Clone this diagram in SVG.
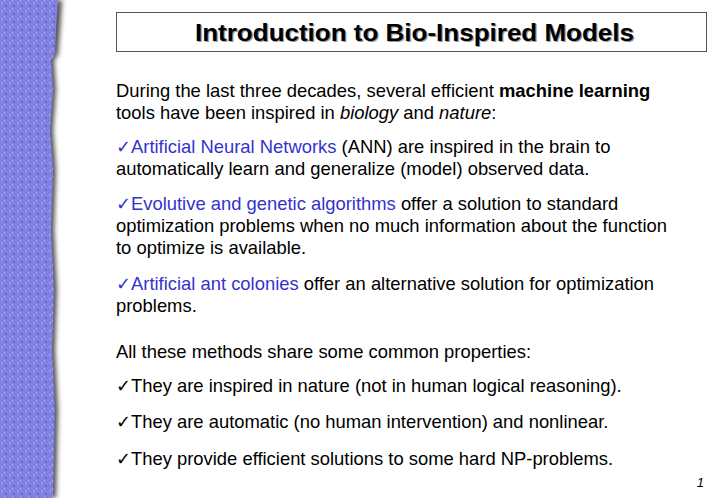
<svg xmlns="http://www.w3.org/2000/svg" width="720" height="498" viewBox="0 0 720 498">
<defs>
<pattern id="tex" width="8" height="8" patternUnits="userSpaceOnUse">
<rect width="8" height="8" fill="#8080e0"/>
<rect x="1" y="2" width="2" height="2" fill="#9a9af0"/>
<rect x="5" y="5" width="2" height="2" fill="#6a6acc"/>
<rect x="4" y="0" width="1" height="2" fill="#a8a8f4"/>
</pattern>
<filter id="sh" x="-20%" y="-5%" width="160%" height="110%"><feGaussianBlur stdDeviation="2.5"/></filter>
<style>
text{font-family:"Liberation Sans",Arial,sans-serif;font-size:18.4px;fill:#000}
.b{fill:#3333cc}
</style>
</defs>
<rect width="720" height="498" fill="#fff"/>
<g id="strip">
<path d="M0 0H62L60 30L58 55L54 60L56 90L53 130L56 170L54 230L57 290L55 350L58 410L56 498H0Z" fill="#000" opacity="0.7" filter="url(#sh)"/>
<path d="M0 0H58L56 30L55 55L51 60L53 90L50 130L53 170L51 230L54 290L52 350L55 410L53 498H0Z" fill="url(#tex)"/>
</g>
<g id="title">
<rect x="116.5" y="12.5" width="590" height="39" fill="#fff" stroke="#555" stroke-width="1"/>
<text x="195" y="41" textLength="439" lengthAdjust="spacingAndGlyphs" style="font-size:23px;font-weight:bold;fill:#999" transform="translate(1.2,1.2)">Introduction to Bio-Inspired Models</text>
<text x="195" y="41" textLength="439" lengthAdjust="spacingAndGlyphs" style="font-size:23px;font-weight:bold">Introduction to Bio-Inspired Models</text>
</g>
<g id="body">
<text x="116" y="97">During the last three decades, several efficient <tspan font-weight="bold">machine learning</tspan></text>
<text x="116" y="119">tools have been inspired in <tspan font-style="italic">biology</tspan> and <tspan font-style="italic">nature</tspan>:</text>
<text x="116" y="153"><tspan class="b">✓Artificial Neural Networks</tspan> (ANN) are inspired in the brain to</text>
<text x="116" y="175">automatically learn and generalize (model) observed data.</text>
<text x="116" y="210"><tspan class="b">✓Evolutive and genetic algorithms</tspan> offer a solution to standard</text>
<text x="116" y="232">optimization problems when no much information about the function</text>
<text x="116" y="254">to optimize is available.</text>
<text x="116" y="290"><tspan class="b">✓Artificial ant colonies</tspan> offer an alternative solution for optimization</text>
<text x="116" y="312">problems.</text>
<text x="116" y="358">All these methods share some common properties:</text>
<text x="116" y="392">✓They are inspired in nature (not in human logical reasoning).</text>
<text x="116" y="428">✓They are automatic (no human intervention) and nonlinear.</text>
<text x="116" y="465">✓They provide efficient solutions to some hard NP-problems.</text>
<text x="704" y="487" text-anchor="end" style="font-size:13px;font-style:italic">1</text>
</g>
</svg>
